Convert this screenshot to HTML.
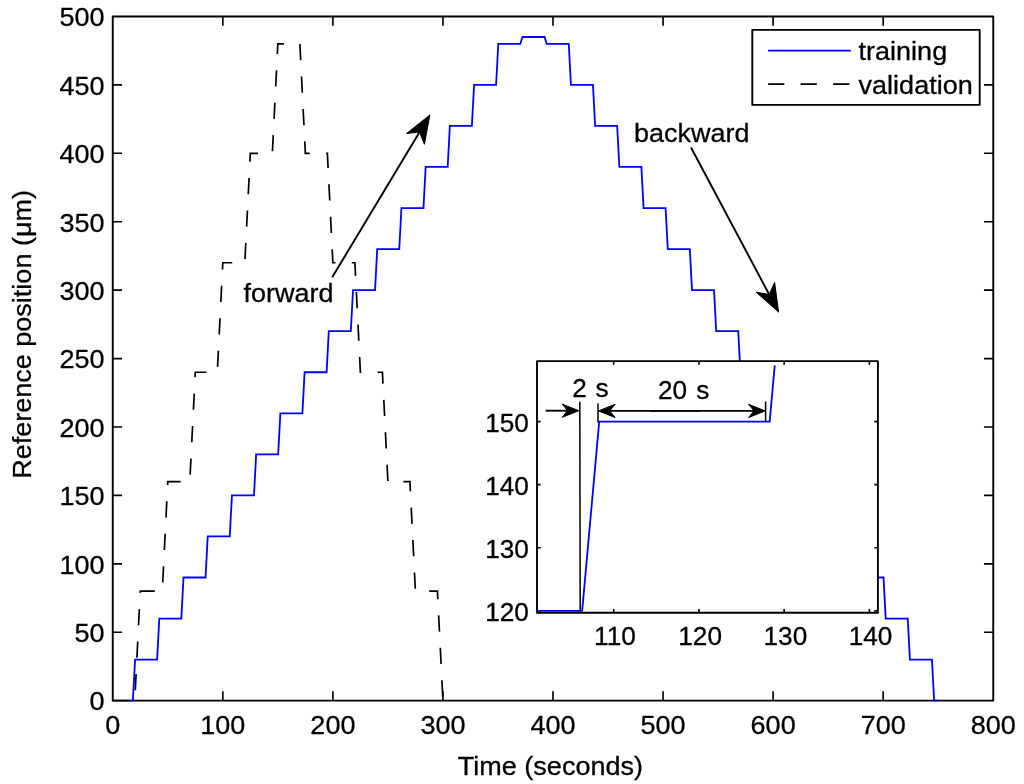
<!DOCTYPE html>
<html lang="en"><head><meta charset="utf-8"><title>Reference position</title>
<style>html,body{margin:0;padding:0;background:#fff;overflow:hidden}svg{display:block}text{font-family:'Liberation Sans',Arial,Helvetica,sans-serif;fill:#000;stroke:#000;stroke-width:0.3px}</style></head><body>
<svg width="1024" height="784" viewBox="0 0 1024 784">
<rect width="1024" height="784" fill="#fff"/>
<defs><clipPath id="cm"><rect x="111.75" y="15.45" width="882.50" height="686.20"/></clipPath>
<clipPath id="ci"><rect x="537.00" y="361.10" width="340.90" height="251.60"/></clipPath></defs>
<g stroke="#000" stroke-width="1.90" fill="none" stroke-linecap="butt" stroke-linejoin="round">
<rect x="112.75" y="16.45" width="880.50" height="684.20"/>
<path d="M222.81 700.65 V691.35 M222.81 16.45 V25.75 M332.88 700.65 V691.35 M332.88 16.45 V25.75 M442.94 700.65 V691.35 M442.94 16.45 V25.75 M553.00 700.65 V691.35 M553.00 16.45 V25.75 M663.06 700.65 V691.35 M663.06 16.45 V25.75 M773.12 700.65 V691.35 M773.12 16.45 V25.75 M883.19 700.65 V691.35 M883.19 16.45 V25.75 M112.75 632.23 H122.05 M993.25 632.23 H983.95 M112.75 563.81 H122.05 M993.25 563.81 H983.95 M112.75 495.39 H122.05 M993.25 495.39 H983.95 M112.75 426.97 H122.05 M993.25 426.97 H983.95 M112.75 358.55 H122.05 M993.25 358.55 H983.95 M112.75 290.13 H122.05 M993.25 290.13 H983.95 M112.75 221.71 H122.05 M993.25 221.71 H983.95 M112.75 153.29 H122.05 M993.25 153.29 H983.95 M112.75 84.87 H122.05 M993.25 84.87 H983.95" stroke-width="1.65"/>
</g>
<g clip-path="url(#cm)">
<path d="M112.75 700.65 L134.76 700.65 L140.27 591.18 L162.28 591.18 L167.78 481.71 L189.79 481.71 L195.30 372.23 L217.31 372.23 L222.81 262.76 L244.82 262.76 L250.33 153.29 L272.34 153.29 L277.84 43.82 L299.86 43.82 L305.36 153.29 L327.37 153.29 L332.88 262.76 L354.89 262.76 L360.39 372.23 L382.40 372.23 L387.91 481.71 L409.92 481.71 L415.42 591.18 L437.43 591.18 L442.94 700.65" fill="none" stroke="#000" stroke-width="1.7" stroke-dasharray="16.24 16.24" stroke-linejoin="miter"/>
<path d="M129.26 700.65 L132.89 700.65 L135.09 659.60 L157.11 659.60 L159.31 618.55 L181.32 618.55 L183.52 577.49 L205.53 577.49 L207.73 536.44 L229.75 536.44 L231.95 495.39 L253.96 495.39 L256.16 454.34 L278.17 454.34 L280.38 413.29 L302.39 413.29 L304.59 372.23 L326.60 372.23 L328.80 331.18 L350.82 331.18 L353.02 290.13 L375.03 290.13 L377.23 249.08 L399.24 249.08 L401.44 208.03 L423.46 208.03 L425.66 166.97 L447.67 166.97 L449.87 125.92 L471.88 125.92 L474.09 84.87 L496.10 84.87 L498.30 43.82 L520.31 43.82 L522.51 36.98 L544.53 36.98 L546.73 43.82 L568.74 43.82 L570.94 84.87 L592.95 84.87 L595.15 125.92 L617.17 125.92 L619.37 166.97 L641.38 166.97 L643.58 208.03 L665.59 208.03 L667.80 249.08 L689.81 249.08 L692.01 290.13 L714.02 290.13 L716.22 331.18 L738.24 331.18 L740.44 372.23 L762.45 372.23 L764.65 413.29 L786.66 413.29 L788.86 454.34 L810.88 454.34 L813.08 495.39 L835.09 495.39 L837.29 536.44 L859.30 536.44 L861.51 577.49 L883.52 577.49 L885.72 618.55 L907.73 618.55 L909.93 659.60 L931.95 659.60 L934.15 700.65 L937.67 700.65" fill="none" stroke="#00f" stroke-width="1.8" stroke-linejoin="miter"/>
</g>
<g font-size="26.50">
<text transform="translate(104.60 710.45) scale(1.0189 1)" text-anchor="end">0</text>
<text transform="translate(104.60 642.03) scale(1.0189 1)" text-anchor="end">50</text>
<text transform="translate(104.60 573.61) scale(1.0189 1)" text-anchor="end">100</text>
<text transform="translate(104.60 505.19) scale(1.0189 1)" text-anchor="end">150</text>
<text transform="translate(104.60 436.77) scale(1.0189 1)" text-anchor="end">200</text>
<text transform="translate(104.60 368.35) scale(1.0189 1)" text-anchor="end">250</text>
<text transform="translate(104.60 299.93) scale(1.0189 1)" text-anchor="end">300</text>
<text transform="translate(104.60 231.51) scale(1.0189 1)" text-anchor="end">350</text>
<text transform="translate(104.60 163.09) scale(1.0189 1)" text-anchor="end">400</text>
<text transform="translate(104.60 94.67) scale(1.0189 1)" text-anchor="end">450</text>
<text transform="translate(104.60 26.25) scale(1.0189 1)" text-anchor="end">500</text>
<text transform="translate(112.75 734.00) scale(1.0189 1)" text-anchor="middle">0</text>
<text transform="translate(222.81 734.00) scale(1.0189 1)" text-anchor="middle">100</text>
<text transform="translate(332.88 734.00) scale(1.0189 1)" text-anchor="middle">200</text>
<text transform="translate(442.94 734.00) scale(1.0189 1)" text-anchor="middle">300</text>
<text transform="translate(553.00 734.00) scale(1.0189 1)" text-anchor="middle">400</text>
<text transform="translate(663.06 734.00) scale(1.0189 1)" text-anchor="middle">500</text>
<text transform="translate(773.12 734.00) scale(1.0189 1)" text-anchor="middle">600</text>
<text transform="translate(883.19 734.00) scale(1.0189 1)" text-anchor="middle">700</text>
<text transform="translate(993.25 734.00) scale(1.0189 1)" text-anchor="middle">800</text>
<text transform="translate(550.40 774.50) scale(1.0189 1)" text-anchor="middle">Time (seconds)</text>
<text transform="translate(31.00 334.40) rotate(-90) scale(1.0189 1)" text-anchor="middle">Reference position (μm)</text>
</g>
<rect x="752.30" y="29.90" width="227.40" height="75.00" fill="#fff" stroke="#000" stroke-width="1.90" stroke-linejoin="round"/>
<path d="M768.1 50.7 H850.8" stroke="#00f" stroke-width="1.8" fill="none"/>
<path d="M768.1 84.2 H850.8" stroke="#000" stroke-width="1.7" stroke-dasharray="16.25 16.25" fill="none"/>
<g font-size="26.50"><text transform="translate(858.60 59.90) scale(1.0189 1)">training</text><text transform="translate(858.60 93.60) scale(1.0189 1)">validation</text></g>
<path d="M332.20 277.30 L419.59 132.04" stroke="#000" stroke-width="1.90" fill="none"/><path d="M429.90 114.90 L424.38 144.25 L419.59 132.04 L406.55 133.53 Z" fill="#000" stroke="#000" stroke-width="1" stroke-linejoin="round"/>
<path d="M691.00 147.50 L769.20 294.44" stroke="#000" stroke-width="1.90" fill="none"/><path d="M778.60 312.10 L756.26 292.27 L769.20 294.44 L774.63 282.50 Z" fill="#000" stroke="#000" stroke-width="1" stroke-linejoin="round"/>
<g font-size="26.50"><text transform="translate(243.40 302.40) scale(1.0189 1)">forward</text><text transform="translate(634.00 141.60) scale(1.0189 1)">backward</text></g>
<rect x="537.00" y="361.10" width="340.90" height="251.60" fill="#fff"/>
<g stroke="#000" stroke-width="1.90" fill="none" stroke-linejoin="round">
<rect x="537.00" y="361.10" width="340.90" height="251.60"/>
<path d="M613.70 612.70 V609.10 M613.70 361.10 V364.70 M698.93 612.70 V609.10 M698.93 361.10 V364.70 M784.15 612.70 V609.10 M784.15 361.10 V364.70 M869.38 612.70 V609.10 M869.38 361.10 V364.70 M537.00 610.81 H540.60 M877.90 610.81 H874.30 M537.00 547.75 H540.60 M877.90 547.75 H874.30 M537.00 484.69 H540.60 M877.90 484.69 H874.30 M537.00 421.64 H540.60 M877.90 421.64 H874.30" stroke-width="1.65"/>
</g>
<g clip-path="url(#ci)"><path d="M528.48 610.81 L582.17 610.81 L599.21 421.64 L769.66 421.64 L774.74 365.32" fill="none" stroke="#00f" stroke-width="1.8"/></g>
<g font-size="25.70">
<text transform="translate(528.90 620.91) scale(1.0189 1)" text-anchor="end">120</text>
<text transform="translate(528.90 557.85) scale(1.0189 1)" text-anchor="end">130</text>
<text transform="translate(528.90 494.79) scale(1.0189 1)" text-anchor="end">140</text>
<text transform="translate(528.90 431.74) scale(1.0189 1)" text-anchor="end">150</text>
<text transform="translate(614.90 645.20) scale(1.0189 1)" text-anchor="middle">110</text>
<text transform="translate(700.13 645.20) scale(1.0189 1)" text-anchor="middle">120</text>
<text transform="translate(785.35 645.20) scale(1.0189 1)" text-anchor="middle">130</text>
<text transform="translate(870.58 645.20) scale(1.0189 1)" text-anchor="middle">140</text>
<text transform="translate(572.20 397.20) scale(1.0189 1)" style="word-spacing:1.4px">2 s</text><text transform="translate(658.00 399.40) scale(1.0189 1)" style="word-spacing:1.8px">20 s</text>
</g>
<g stroke="#000" fill="none"><path d="M579.8 401.7 L580.2 611.5" stroke-width="1.5"/><path d="M598 403.3 V422.6" stroke-width="1.5"/><path d="M765.6 401.4 V422.3" stroke-width="1.5"/></g>
<path d="M545.60 410.70 L567.60 410.70" stroke="#000" stroke-width="1.90" fill="none"/><path d="M578.90 410.70 L562.20 417.30 L567.60 410.70 L562.20 404.10 Z" fill="#000" stroke="#000" stroke-width="1" stroke-linejoin="round"/>
<path d="M700.00 410.90 L609.70 410.90" stroke="#000" stroke-width="1.90" fill="none"/><path d="M598.40 410.90 L615.10 404.30 L609.70 410.90 L615.10 417.50 Z" fill="#000" stroke="#000" stroke-width="1" stroke-linejoin="round"/>
<path d="M650.00 410.90 L754.00 410.90" stroke="#000" stroke-width="1.90" fill="none"/><path d="M765.30 410.90 L748.60 417.50 L754.00 410.90 L748.60 404.30 Z" fill="#000" stroke="#000" stroke-width="1" stroke-linejoin="round"/>
</svg></body></html>
